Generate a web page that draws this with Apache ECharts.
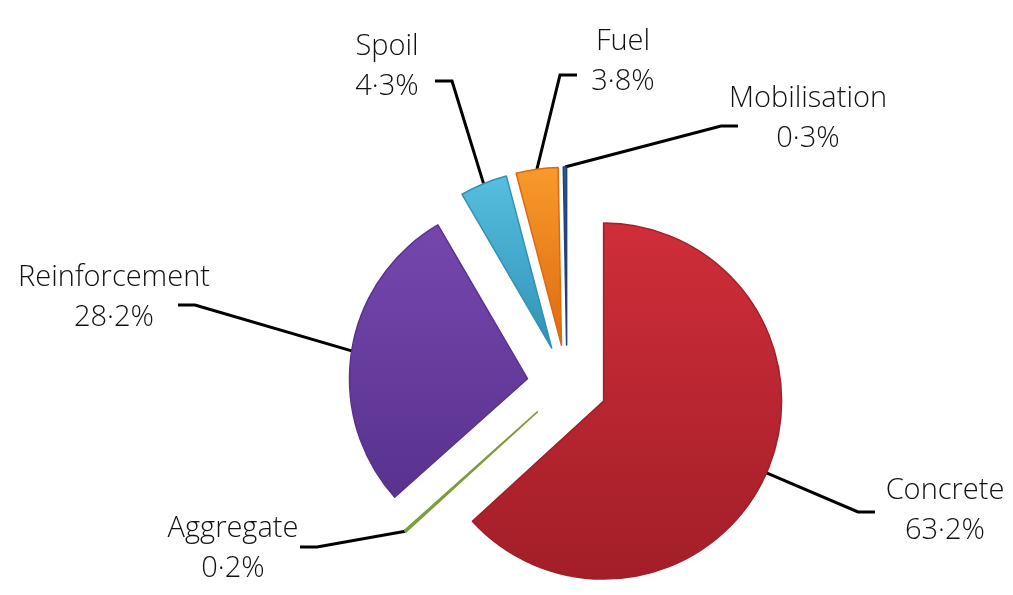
<!DOCTYPE html>
<html>
<head>
<meta charset="utf-8">
<script src="https://cdn.jsdelivr.net/npm/echarts@6/dist/echarts.min.js"></script>
<style>
html, body { margin: 0; padding: 0; background: #fff; }
#pie_chart_container { width: 1013px; height: 595px; }
</style>
</head>
<body>
<div id="pie_chart_container"></div>
<script>
// chart data
const categories = ["Concrete", "Aggregate", "Reinforcement", "Spoil", "Fuel", "Mobilisation"]
const shares = [63.2, 0.2, 28.2, 4.3, 3.8, 0.3]

// slice colours: [light, dark]
const sliceColors = [
	["#cf2e39", "#a21e28"],
	["#a3c05a", "#7f9c3c"],
	["#7547ae", "#58328e"],
	["#56bee0", "#3093b6"],
	["#f89a2c", "#de6a10"],
	["#34569c", "#223e7c"],
]

// label block centres and where each leader line meets its label
const labelSpots = [[945, 511], [233, 549], [114, 298], [387, 67], [623, 62], [808, 119]]
const leaderEnds = [[-70, 1], [67, -2], [64, 7], [48, 14], [-46, 13], [-70, 7]]

const pieCenter = [567, 385]
const pieRadius = 178
const explode = 40

const formatShare = v => v.toFixed(1).replace(".", "\u00b7") + "%"

// mid angle of every slice (clockwise from 12 o'clock) for the explode shift
const total = shares.reduce((a, b) => a + b, 0)
let acc = 0
const midAngles = shares.map(v => {
	const mid = (acc + v / 2) / total * Math.PI * 2
	acc += v
	return mid
})

const chart = echarts.init(document.getElementById("pie_chart_container"))

const sliceData = categories.map((name, i) => ({
	name,
	value: shares[i],
	selected: true,
	itemStyle: {
		color: new echarts.graphic.LinearGradient(0, 0, 0, 1, [
			{ offset: 0, color: sliceColors[i][0] },
			{ offset: 1, color: sliceColors[i][1] },
		]),
		borderColor: sliceColors[i][1],
		borderWidth: 1.5,
	},
}))

const labelData = categories.map((name, i) => ({ name, value: shares[i] }))

chart.setOption({
	backgroundColor: "#fff",
	animation: false,
	series: [
		{
			type: "pie",
			center: pieCenter,
			radius: pieRadius,
			startAngle: 90,
			clockwise: true,
			selectedMode: "multiple",
			selectedOffset: explode,
			emphasis: { scale: false },
			label: { show: false },
			labelLine: { show: false },
			data: sliceData,
		},
		{
			// same pie, unfilled, only carries the labels
			type: "pie",
			center: pieCenter,
			radius: pieRadius,
			startAngle: 90,
			clockwise: true,
			silent: true,
			avoidLabelOverlap: false,
			itemStyle: { color: "rgba(0,0,0,0)" },
			emphasis: { disabled: true },
			data: labelData,
			label: {
				show: true,
				position: "outside",
				formatter: p => p.name + "\n" + formatShare(p.value),
				fontFamily: "Open Sans",
				fontWeight: 300,
				fontSize: 29,
				lineHeight: 40,
				color: "#111",
				align: "center",
			},
			labelLine: {
				show: true,
				lineStyle: { color: "#000", width: 3 },
			},
			labelLayout(params) {
				const i = params.dataIndex
				const [lx, ly] = labelSpots[i]
				const [dx, dy] = leaderEnds[i]
				const endX = lx + dx
				const endY = ly + dy
				const elbowX = endX + (dx < 0 ? -17 : 17)
				const p0 = params.labelLinePoints[0]
				const start = [
					p0[0] + Math.sin(midAngles[i]) * explode,
					p0[1] - Math.cos(midAngles[i]) * explode,
				]
				return {
					x: lx,
					y: ly,
					align: "center",
					verticalAlign: "middle",
					labelLinePoints: [start, [elbowX, endY], [endX, endY]],
				}
			},
		},
	],
})
</script>
</body>
</html>
